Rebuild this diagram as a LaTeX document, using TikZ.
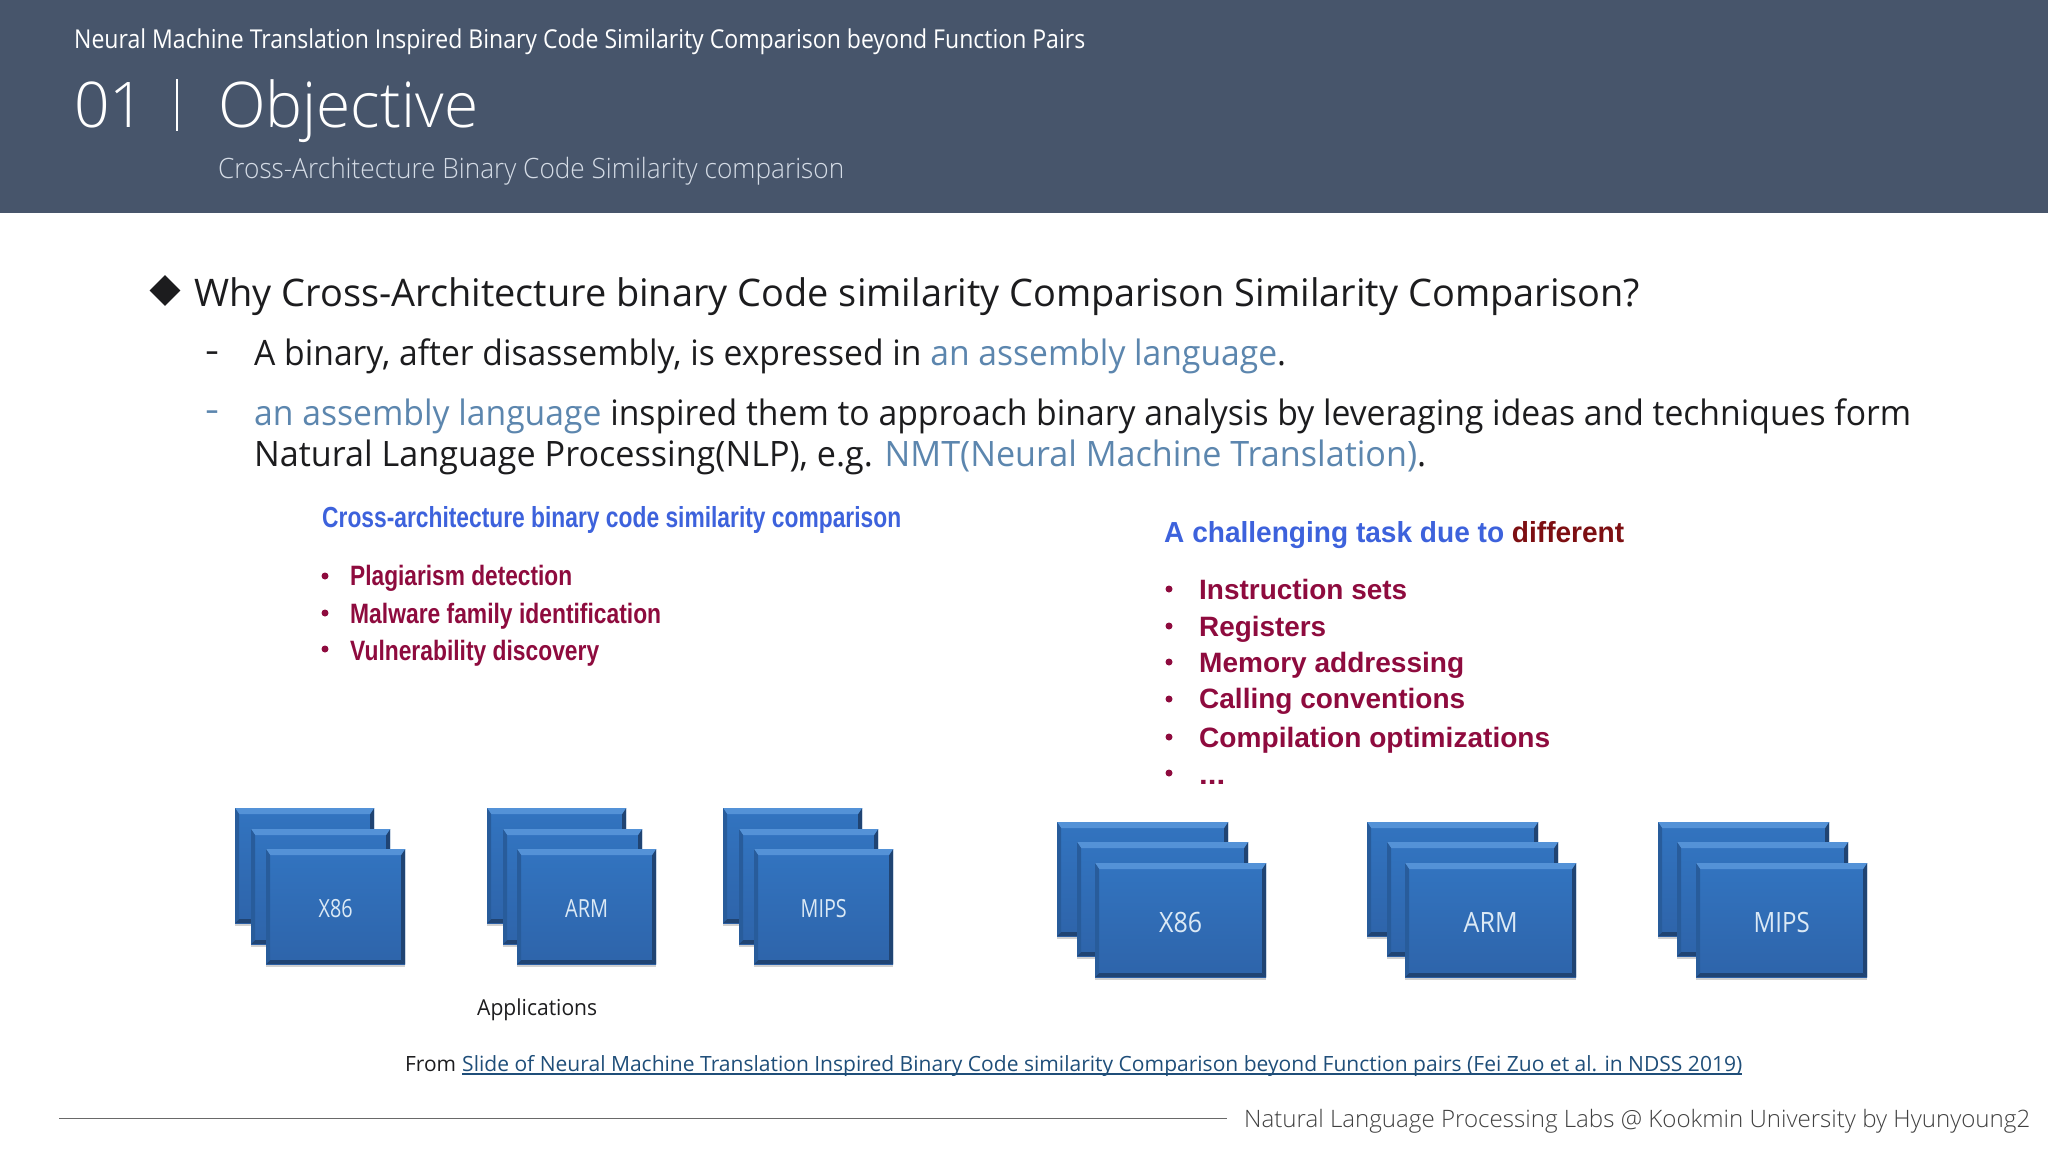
\documentclass[tikz,border=0pt]{standalone}
\usepackage{fontspec}
\setmainfont{Open Sans}
\setsansfont{Liberation Sans}
\newfontfamily\lightfont{Open Sans Light}
\usetikzlibrary{shapes.geometric,shadows}
\definecolor{bandblue}{RGB}{71,85,107}
\definecolor{subgrey}{RGB}{213,220,230}
\definecolor{inkdark}{RGB}{28,28,30}
\definecolor{steelblue}{RGB}{92,134,174}
\definecolor{headblue}{RGB}{61,98,220}
\definecolor{itemred}{RGB}{142,11,62}
\definecolor{diffred}{RGB}{125,15,18}
\definecolor{linkblue}{RGB}{31,78,121}
\definecolor{footgrey}{RGB}{64,64,64}
\definecolor{rulegrey}{RGB}{105,105,105}
\definecolor{boxtop}{RGB}{50,116,192}
\definecolor{boxbot}{RGB}{46,100,170}
\definecolor{boxlight}{RGB}{84,146,215}
\definecolor{boxside}{RGB}{40,92,155}
\definecolor{boxdark}{RGB}{32,68,115}
\definecolor{boxtext}{RGB}{219,233,245}
\newcommand{\fsize}[1]{\fontsize{#1}{#1}\selectfont}
% squeeze a line to its width, keeping its height
\newcommand{\fitw}[2]{\resizebox{#1pt}{\height}{#2}}
\newcommand{\boxlabel}[2]{\fitw{#1}{\raisebox{-2pt}[\height][0pt]{#2}}}
\tikzset{
  txt/.style={inner sep=0, anchor=base west},
  boxface/.style={rectangle, inner sep=0, anchor=north west, text=boxtext,
    top color=boxtop, bottom color=boxbot,
    drop shadow={shadow xshift=0pt, shadow yshift=-3pt, fill=black, opacity=.18},
    path picture={
      \fill[boxlight] (path picture bounding box.north west) -- (path picture bounding box.north east)
        -- ([xshift=-4pt,yshift=-6pt]path picture bounding box.north east)
        -- ([xshift=4pt,yshift=-6pt]path picture bounding box.north west) -- cycle;
      \fill[boxside] (path picture bounding box.north west) -- ([xshift=4pt,yshift=-6pt]path picture bounding box.north west)
        -- ([xshift=4pt,yshift=4pt]path picture bounding box.south west)
        -- (path picture bounding box.south west) -- cycle;
      \fill[boxdark] (path picture bounding box.north east) -- ([xshift=-4pt,yshift=-6pt]path picture bounding box.north east)
        -- ([xshift=-4pt,yshift=4pt]path picture bounding box.south east)
        -- (path picture bounding box.south east) -- cycle;
      \fill[boxdark] (path picture bounding box.south west) -- ([xshift=4pt,yshift=4pt]path picture bounding box.south west)
        -- ([xshift=-4pt,yshift=4pt]path picture bounding box.south east)
        -- (path picture bounding box.south east) -- cycle;
    }},
  smallbox/.style={boxface, minimum width=139pt, minimum height=115pt, font=\fsize{25}},
  bigbox/.style={boxface, minimum width=171pt, minimum height=114pt, font=\fsize{28}},
  bodytxt/.style={txt, text=inkdark, font=\fsize{35}},
  picitem/.style={txt, text=itemred, font=\sffamily\bfseries\fsize{28}},
  pichead/.style={txt, text=headblue, font=\sffamily\bfseries\fsize{29}},
  dot/.style={circle, fill=itemred, inner sep=0, minimum size=7pt},
}
\begin{document}
\begin{tikzpicture}[x=1pt,y=-1pt]
\useasboundingbox (0,0) rectangle (2048,1152);
% header band
\fill[bandblue] (0,0) rectangle (2048,213);
\node[txt, text=white, font=\fsize{26}] (talk) at (74,48) {\fitw{1011}{Neural Machine Translation Inspired Binary Code Similarity Comparison beyond Function Pairs}};
\node[txt, text=white, font=\lightfont\fsize{63}] (num) at (74,127) {\fitw{71}{01}};
\draw[white, line width=1.2pt] (177,79) -- (177,131);
\node[txt, text=white, font=\lightfont\fsize{63}] (objective) at (218,127) {\fitw{260}{Objective}};
\node[txt, text=subgrey, font=\lightfont\fsize{28}] (subtitle) at (218,178) {\fitw{626}{Cross-Architecture Binary Code Similarity comparison}};
% body text
\node[diamond, fill=inkdark, inner sep=0, minimum width=31pt, minimum height=31pt] (mark) at (165,290.5) {};
\node[txt, text=inkdark, font=\fsize{38}] (why) at (194,306) {\fitw{1446}{Why Cross-Architecture binary Code similarity Comparison Similarity Comparison?}};
\node[txt, text=inkdark, font=\fsize{35}] (dasha) at (205,362) {\fitw{14}{-}};
\node[bodytxt] (linea) at (254,365) {\fitw{1032}{A binary, after disassembly, is expressed in \textcolor{steelblue}{an assembly language}.}};
\node[txt, text=steelblue, font=\fsize{35}] (dashb) at (205,421) {\fitw{14}{-}};
\node[bodytxt] (lineb) at (254,425) {\fitw{1657}{\textcolor{steelblue}{an assembly language} inspired them to approach binary analysis by leveraging ideas and techniques form}};
\node[bodytxt] (linec) at (254,466) {\fitw{1172}{Natural Language Processing(NLP), e.g. \textcolor{steelblue}{NMT(Neural Machine Translation)}.}};
% left picture
\node[pichead] (lefthead) at (322,527) {\fitw{579}{Cross-architecture binary code similarity comparison}};
\node[dot] (ldota) at (325,576) {};
\node[picitem] (plag) at (350,585) {\fitw{222}{Plagiarism detection}};
\node[dot] (ldotb) at (325,613) {};
\node[picitem] (malw) at (350,623) {\fitw{311}{Malware family identification}};
\node[dot] (ldotc) at (325,649) {};
\node[picitem] (vuln) at (350,660) {\fitw{249}{Vulnerability discovery}};
% right picture
\node[pichead] (righthead) at (1164,542) {\fitw{460}{A challenging task due to \textcolor{diffred}{different}}};
\node[dot] (rdota) at (1169,589) {};
\node[picitem] (inst) at (1199,599) {\fitw{208}{Instruction sets}};
\node[dot] (rdotb) at (1169,626) {};
\node[picitem] (regs) at (1199,636) {\fitw{127}{Registers}};
\node[dot] (rdotc) at (1169,662) {};
\node[picitem] (memo) at (1199,672) {\fitw{265}{Memory addressing}};
\node[dot] (rdotd) at (1169,699) {};
\node[picitem] (call) at (1199,708) {\fitw{266}{Calling conventions}};
\node[dot] (rdote) at (1169,737) {};
\node[picitem] (comp) at (1199,747) {\fitw{351}{Compilation optimizations}};
\node[dot] (rdotf) at (1169,773) {};
\node[picitem] (etc) at (1199,784) {\fitw{26}{...}};
% stacks on the left
\node[smallbox] (lxa) at (235,808) {};
\node[smallbox] (lxb) at (251,829) {};
\node[smallbox] (lxc) at (266,849) {\boxlabel{34}{X86}};
\node[smallbox] (laa) at (487,808) {};
\node[smallbox] (lab) at (503,829) {};
\node[smallbox] (lac) at (517,849) {\boxlabel{43}{ARM}};
\node[smallbox] (lma) at (723,808) {};
\node[smallbox] (lmb) at (739,829) {};
\node[smallbox] (lmc) at (754,849) {\boxlabel{46}{MIPS}};
% stacks on the right
\node[bigbox] (rxa) at (1057,822) {};
\node[bigbox] (rxb) at (1077,842) {};
\node[bigbox] (rxc) at (1095,863) {\boxlabel{43}{X86}};
\node[bigbox] (raa) at (1367,822) {};
\node[bigbox] (rab) at (1387,842) {};
\node[bigbox] (rac) at (1405,863) {\boxlabel{54}{ARM}};
\node[bigbox] (rma) at (1658,822) {};
\node[bigbox] (rmb) at (1677,842) {};
\node[bigbox] (rmc) at (1696,863) {\boxlabel{56}{MIPS}};
\node[txt, text=inkdark, font=\fsize{22}] (apps) at (477,1015) {\fitw{120}{Applications}};
% source and footer
\node[txt, text=inkdark, font=\fsize{21}] (from) at (405,1071) {\fitw{51}{From}};
\node[txt, text=linkblue, font=\fsize{21}] (source) at (462,1071) {\fitw{1280}{Slide of Neural Machine Translation Inspired Binary Code similarity Comparison beyond Function pairs (Fei Zuo et al. in NDSS 2019)}};
\draw[linkblue, line width=1.2pt] ([yshift=-3pt]source.base west) -- ([yshift=-3pt]source.base east);
\coordinate (rulea) at (59,1118);
\coordinate (ruleb) at (1227,1118);
\draw[rulegrey, line width=1pt] (rulea) -- (ruleb);
\node[txt, text=footgrey, font=\lightfont\fsize{24}] (credit) at (1244,1127) {\fitw{786}{Natural Language Processing Labs @ Kookmin University by Hyunyoung2}};
\end{tikzpicture}
\end{document}
